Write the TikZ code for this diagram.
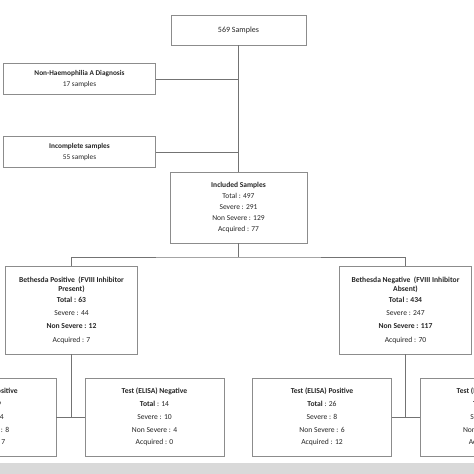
\documentclass[tikz,border=0pt]{standalone}
\usepackage{fontspec}
\setmainfont{Carlito}
\usetikzlibrary{positioning,shadows}

\begin{document}
\begin{tikzpicture}[x=1pt, y=-1pt,
    box/.style={draw=black!45, line width=0.5pt, fill=white, align=center, inner sep=0pt,
      text=black!85, drop shadow={shadow xshift=0.8pt, shadow yshift=-0.8pt, opacity=0.35}},
    link/.style={draw=black!55, line width=0.6pt},
    smallbox/.style={box, minimum width=152pt, minimum height=31pt, font=\fontsize{7.3}{11.5}\selectfont},
    inclbox/.style={box, minimum width=137pt, minimum height=71pt, font=\fontsize{7.5}{11}\selectfont},
    bethbox/.style={box, minimum width=132pt, minimum height=88pt, font=\fontsize{7.6}{9}\selectfont},
    testbox/.style={box, minimum width=139pt, minimum height=78pt, font=\fontsize{7.6}{12.8}\selectfont}]
    \useasboundingbox (0,0) rectangle (474,474);
    \clip (0,0) rectangle (474,474);

    % Page edge
    \fill[black!15] (0,463) rectangle (474,474);

    % Screening
    \node[box, minimum width=135pt, minimum height=30pt, font=\fontsize{8}{9}\selectfont] (all) at (238.5,30) {569 Samples};
    \node[smallbox] (nonhaem) at (79.5,79) {\textbf{Non-Haemophilia A Diagnosis}\\17 samples};
    \node[smallbox] (incomp) at (79.5,152) {\textbf{Incomplete samples}\\55 samples};
    \node[inclbox] (incl) at (238.5,207.5) {\textbf{Included Samples}\\Total : 497\\Severe : 291\\Non Severe : 129\\Acquired : 77};

    \draw[link] (all.south) -- (incl.north);
    \draw[link] (nonhaem.east) -- (nonhaem.east -| all.south);
    \draw[link] (incomp.east) -- (incomp.east -| all.south);

    % Bethesda split
    \node[bethbox] (bpos) at (71.5,310) {\textbf{Bethesda Positive\ \ (FVIII Inhibitor}\\\textbf{Present)}\\[2pt]
      \textbf{Total : 63}\\[4.5pt]Severe : 44\\[4pt]\textbf{Non Severe : 12}\\[4.5pt]Acquired : 7};
    \node[bethbox] (bneg) at (405.5,310) {\textbf{Bethesda Negative\ \ (FVIII Inhibitor}\\\textbf{Absent)}\\[2pt]
      \textbf{Total : 434}\\[4.5pt]Severe : 247\\[4pt]\textbf{Non Severe : 117}\\[4.5pt]Acquired : 70};
    \coordinate (split) at (238.5,257);
    \draw[link] (incl.south) -- (split);
    \draw[link] (bpos.north) |- (split) -| (bneg.north);

    % ELISA tests
    \node[testbox] (pospos) at (-13.5,417) {\textbf{Test (ELISA) Positive}\\\textbf{Total : 49}\\Severe : 34\\Non Severe : 8\\Acquired : 7};
    \node[testbox] (posneg) at (154.5,417) {\textbf{Test (ELISA) Negative}\\\textbf{Total} : 14\\Severe : 10\\Non Severe : 4\\Acquired : 0};
    \node[testbox] (negpos) at (322,417) {\textbf{Test (ELISA) Positive}\\\textbf{Total} : 26\\Severe : 8\\Non Severe : 6\\Acquired : 12};
    \node[testbox] (negneg) at (489.5,417) {\textbf{Test (ELISA) Negative}\\\textbf{Total} : 408\\Severe : 239\\Non Severe : 111\\Acquired : 58};

    \draw[link] (bpos.south) -- (bpos.south |- posneg.west);
    \draw[link] (pospos.east) -- (posneg.west);
    \draw[link] (bneg.south) -- (bneg.south |- negneg.west);
    \draw[link] (negpos.east) -- (negneg.west);
\end{tikzpicture}
\end{document}
